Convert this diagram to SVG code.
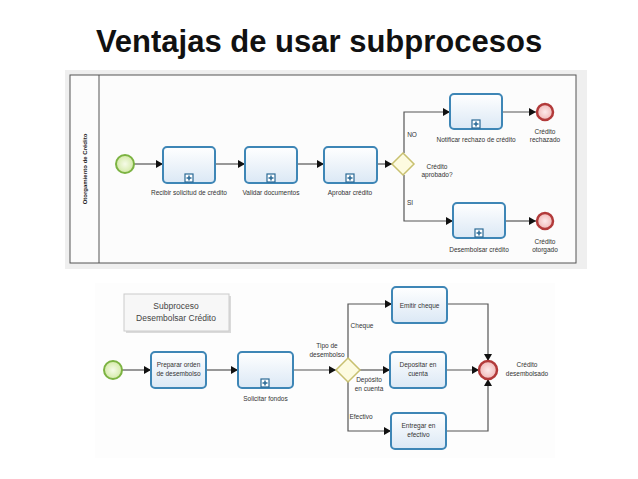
<svg xmlns="http://www.w3.org/2000/svg" width="638" height="479" viewBox="0 0 638 479">
<defs>
<linearGradient id="tg" x1="0" y1="0" x2="0" y2="1"><stop offset="0" stop-color="#ffffff"/><stop offset="1" stop-color="#dbe8f5"/></linearGradient>
<radialGradient id="sg"><stop offset="0" stop-color="#f6fbe8"/><stop offset="1" stop-color="#d4eaa8"/></radialGradient>
<radialGradient id="eg"><stop offset="0" stop-color="#fdeaea"/><stop offset="1" stop-color="#f0b8b8"/></radialGradient>
<marker id="ar" markerWidth="8" markerHeight="8" refX="7" refY="4" orient="auto" markerUnits="userSpaceOnUse"><path d="M0,0 L7,4 L0,8 z" fill="#111"/></marker>
</defs>
<style>
.t{fill:url(#tg);stroke:#3e86b6;stroke-width:2}
.s{fill:url(#sg);stroke:#7cb342;stroke-width:2}
.e{fill:url(#eg);stroke:#b23a3a;stroke-width:2.5}
.g{fill:#fdfbe0;stroke:#c8c070;stroke-width:1.5}
.pl{fill:#fff;stroke:#2a6a96;stroke-width:1.2}
.c{fill:none;stroke:#555;stroke-width:1.2;marker-end:url(#ar)}
text{font-family:"Liberation Sans",Arial,sans-serif;font-size:6.5px;fill:#333}
.m{text-anchor:middle}
</style>
<rect width="638" height="479" fill="#fff"/>
<text x="319" y="52" class="m" style="font-size:31px;font-weight:bold;fill:#111">Ventajas de usar subprocesos</text>
<rect x="65" y="70" width="522" height="199" fill="#efefef"/>
<rect x="70" y="75" width="506" height="188" fill="#fcfcfc" stroke="#555" stroke-width="1"/>
<line x1="99" y1="75" x2="99" y2="263" stroke="#555"/>
<text transform="translate(87,169) rotate(-90)" class="m" style="font-size:6px;font-weight:bold;fill:#222">Otorgamiento de Crédito</text>
<rect x="95" y="283" width="460" height="175" fill="#fdfdfd"/>
<g id="connectors">
<path class="c" d="M134,164 H163"/>
<path class="c" d="M215,164 H245"/>
<path class="c" d="M297,164 H324"/>
<path class="c" d="M377,164 H392"/>
<path class="c" d="M404,153 V112 H450"/>
<path class="c" d="M404,175 V221 H453"/>
<path class="c" d="M502,112 H536"/>
<path class="c" d="M505,221 H536"/>
<path class="c" d="M122,370 H151"/>
<path class="c" d="M206,370 H238"/>
<path class="c" d="M293,370 H336"/>
<path class="c" d="M348,358 V304 H392"/>
<path class="c" d="M360,370 H390"/>
<path class="c" d="M348,382 V431 H391"/>
<path class="c" d="M447,304 H488 V361"/>
<path class="c" d="M446,370 H479"/>
<path class="c" d="M446,431 H488 V379"/>
</g>
<g id="lane-start"><circle cx="125" cy="164" r="9" class="s"/></g>
<g id="recibir"><rect x="163" y="147" width="52" height="36" rx="4" class="t"/><rect x="185" y="174" width="8" height="8" class="pl"/><path d="M189,175.5v5M186.5,178h5" stroke="#2a6a96" stroke-width="1.5"/><text x="189" y="195" class="m">Recibir solicitud de crédito</text></g>
<g id="validar"><rect x="245" y="147" width="52" height="36" rx="4" class="t"/><rect x="267" y="174" width="8" height="8" class="pl"/><path d="M271,175.5v5M268.5,178h5" stroke="#2a6a96" stroke-width="1.5"/><text x="271" y="195" class="m">Validar documentos</text></g>
<g id="aprobar"><rect x="324" y="147" width="53" height="36" rx="4" class="t"/><rect x="346" y="174" width="8" height="8" class="pl"/><path d="M350,175.5v5M347.5,178h5" stroke="#2a6a96" stroke-width="1.5"/><text x="350" y="195" class="m">Aprobar crédito</text></g>
<g id="gw1"><path d="M403,153 L414,164 L403,175 L392,164 z" class="g"/><text x="437" y="169" class="m">Crédito</text><text x="437" y="177" class="m">aprobado?</text><text x="412" y="137" class="m">NO</text><text x="410" y="205" class="m">SI</text></g>
<g id="notificar"><rect x="450" y="94" width="52" height="35" rx="4" class="t"/><rect x="472" y="120" width="8" height="8" class="pl"/><path d="M476,121.5v5M473.5,124h5" stroke="#2a6a96" stroke-width="1.5"/><text x="476" y="142" class="m">Notificar rechazo de crédito</text></g>
<g id="rechazado"><circle cx="545" cy="112" r="8" class="e"/><text x="545" y="134" class="m">Crédito</text><text x="545" y="142" class="m">rechazado</text></g>
<g id="desembolsar"><rect x="453" y="203" width="52" height="35" rx="4" class="t"/><rect x="475" y="229" width="8" height="8" class="pl"/><path d="M479,230.5v5M476.5,233h5" stroke="#2a6a96" stroke-width="1.5"/><text x="479" y="252" class="m">Desembolsar crédito</text></g>
<g id="otorgado"><circle cx="545" cy="221" r="8" class="e"/><text x="545" y="244" class="m">Crédito</text><text x="545" y="252" class="m">otorgado</text></g>
<g id="nota"><rect x="126" y="296" width="105" height="37" fill="#999" opacity="0.35"/><rect x="124" y="294" width="105" height="37" fill="#f7f7f7" stroke="#ccc"/><text x="176" y="309" class="m" style="font-size:8.5px;fill:#444">Subproceso</text><text x="176" y="321" class="m" style="font-size:8.5px;fill:#444">Desembolsar Crédito</text></g>
<g id="start2"><circle cx="113" cy="370" r="9" class="s"/></g>
<g id="preparar"><rect x="151" y="352" width="55" height="36" rx="4" class="t"/><text x="178.5" y="367" class="m">Preparar orden</text><text x="178.5" y="376" class="m">de desembolso</text></g>
<g id="solicitar"><rect x="238" y="352" width="55" height="36" rx="4" class="t"/><rect x="261" y="379" width="8" height="8" class="pl"/><path d="M265,380.5v5M262.5,383h5" stroke="#2a6a96" stroke-width="1.5"/><text x="265.5" y="401" class="m">Solicitar fondos</text></g>
<g id="gw2"><path d="M348,358 L360,370 L348,382 L336,370 z" class="g"/><text x="327" y="348" class="m">Tipo de</text><text x="327" y="357" class="m">desembolso</text><text x="362" y="328" class="m">Cheque</text><text x="369" y="382" class="m">Depósito</text><text x="369" y="391" class="m">en cuenta</text><text x="361" y="419" class="m">Efectivo</text></g>
<g id="emitir"><rect x="392" y="287" width="55" height="36" rx="4" class="t"/><text x="419.5" y="308" class="m">Emitir cheque</text></g>
<g id="depositar"><rect x="390" y="352" width="56" height="36" rx="4" class="t"/><text x="418" y="367" class="m">Depositar en</text><text x="418" y="376" class="m">cuenta</text></g>
<g id="entregar"><rect x="391" y="413" width="55" height="36" rx="4" class="t"/><text x="418.5" y="428" class="m">Entregar en</text><text x="418.5" y="437" class="m">efectivo</text></g>
<g id="desembolsado"><circle cx="488" cy="370" r="9" class="e"/><text x="527" y="367" class="m">Crédito</text><text x="527" y="376" class="m">desembolsado</text></g>
</svg>
